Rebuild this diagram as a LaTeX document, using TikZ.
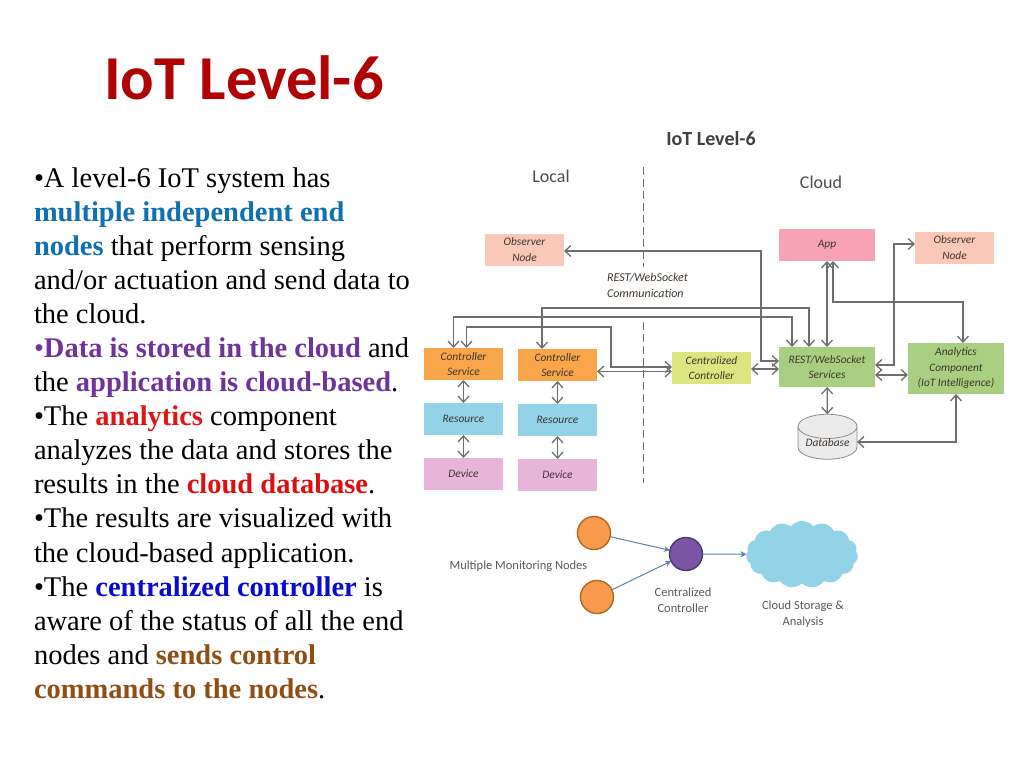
\documentclass[tikz,border=0pt]{standalone}
\usepackage{fontspec}
\setmainfont{Liberation Serif}
\newfontfamily\carlito{Carlito}
\usepackage{xcolor}
\usetikzlibrary{arrows.meta,positioning,shapes.geometric,shapes.symbols}
\definecolor{titlered}{HTML}{B00404}
\definecolor{endblue}{HTML}{1070B0}
\definecolor{cloudpurple}{HTML}{6F3399}
\definecolor{hotred}{HTML}{E01515}
\definecolor{darkred}{HTML}{DC1010}
\definecolor{ctrlblue}{HTML}{0A0AD0}
\definecolor{cmdbrown}{HTML}{8F4E14}
\definecolor{wire}{HTML}{6E6E6E}
\definecolor{boxtext}{HTML}{40362E}
\definecolor{obsfill}{HTML}{F9C8B8}
\definecolor{ctrlfill}{HTML}{F9A54A}
\definecolor{resfill}{HTML}{92D3E8}
\definecolor{devfill}{HTML}{E8B5DA}
\definecolor{centralfill}{HTML}{DCE681}
\definecolor{restfill}{HTML}{A8CF7F}
\definecolor{appfill}{HTML}{F8A3B5}
\definecolor{monfill}{HTML}{F79A4C}
\definecolor{monedge}{HTML}{B5651D}
\definecolor{hubfill}{HTML}{7D55A5}
\definecolor{hubedge}{HTML}{3F3F6F}
\definecolor{flow}{HTML}{5B7FA8}

\begin{document}
\begin{tikzpicture}[x=1pt,y=-1pt,<->,>={Straight Barb[length=6pt,width=11pt]},wire/.style={draw=wire,line width=1.3pt},
                    every node/.style={inner sep=0pt,outer sep=0pt}]
  \tikzstyle{box}=[rectangle,minimum width=79pt,minimum height=32pt,align=center,text=boxtext,
                   font=\carlito\itshape\fontsize{11.4}{15.5}\selectfont]
  \tikzstyle{note}=[align=center,text=black!65,font=\carlito\fontsize{12.5}{16}\selectfont]
  \tikzstyle{spot}=[circle,minimum size=33pt,line width=1.4pt]
  \useasboundingbox (0,0) rectangle (1024,768);

  \node[text=titlered,font=\carlito\bfseries\fontsize{62.5}{66}\selectfont] (title) at (244,78) {IoT Level-6};
  \node[anchor=north west,align=left,font=\fontsize{28.5}{34.07}\selectfont] (body) at (34,167.5) {%
    •A level-6 IoT system has\\
    \textcolor{endblue}{\textbf{multiple independent end}}\\
    \textcolor{endblue}{\textbf{nodes}} that perform sensing\\
    and/or actuation and send data to\\
    the cloud.\\
    \textcolor{cloudpurple}{•\textbf{Data is stored in the cloud}} and\\
    the \textcolor{cloudpurple}{\textbf{application is cloud-based}}.\\
    •The \textcolor{hotred}{\textbf{analytics}} component\\
    analyzes the data and stores the\\
    results in the \textcolor{darkred}{\textbf{cloud database}}.\\
    •The results are visualized with\\
    the cloud-based application.\\
    •The \textcolor{ctrlblue}{\textbf{centralized controller}} is\\
    aware of the status of all the end\\
    nodes and \textcolor{cmdbrown}{\textbf{sends control}}\\
    \textcolor{cmdbrown}{\textbf{commands to the nodes}}.};

  \node[text=black!75,font=\carlito\bfseries\fontsize{20}{22}\selectfont] (heading) at (711,139) {IoT Level-6};
  \node[text=black!70,font=\carlito\fontsize{18}{20}\selectfont] (local) at (551,176) {Local};
  \node[text=black!70,font=\carlito\fontsize{18}{20}\selectfont] (cloudhead) at (821,182) {Cloud};

  % local side
  \node[box,fill=ctrlfill] (ctrlA) at (463.5,364) {Controller\\Service};
  \node[box,fill=resfill,below=23pt of ctrlA] (resA) {Resource};
  \node[box,fill=devfill,below=23pt of resA] (devA) {Device};
  \node[box,fill=ctrlfill] (ctrlB) at (557.5,365) {Controller\\Service};
  \node[box,fill=resfill,below=23pt of ctrlB] (resB) {Resource};
  \node[box,fill=devfill,below=23pt of resB] (devB) {Device};
  \node[box,fill=obsfill] (obsL) at (524.5,249.5) {Observer\\Node};

  % cloud side
  \node[box,fill=centralfill] (central) at (711.5,368) {Centralized\\Controller};
  \node[box,fill=restfill,minimum width=96pt,minimum height=40pt] (rest) at (827,367) {REST/WebSocket\\Services};
  \node[box,fill=appfill,minimum width=96pt] (app) at (827,245) {App};
  \node[box,fill=obsfill] (obsR) at (954.5,247.5) {Observer\\Node};
  \node[box,fill=restfill,minimum width=96pt,minimum height=51pt] (ana) at (956,368.5) {Analytics\\Component\\(IoT Intelligence)};
  \node[cylinder,shape border rotate=90,aspect=0.55,draw=black!45,fill=black!8,line width=0.8pt,
        minimum width=59pt,minimum height=45pt,text=boxtext,font=\carlito\itshape\fontsize{11.4}{15}\selectfont] (db) at (827.5,443) {Database};

  \node[note,text=boxtext,align=left,anchor=north west,font=\carlito\itshape\fontsize{12}{16}\selectfont] (rwc) at (607,273) {REST/WebSocket\\Communication};

  \coordinate (divT) at (643,167);
  \coordinate (divM) at (643,267);
  \coordinate (divN) at (643,322);
  \coordinate (divB) at (643,483);
  \coordinate (busA) at (700,308);
  \coordinate (busB) at (700,317);
  \coordinate (busC) at (540,327);
  \coordinate (busD) at (611,367);
  \coordinate (topO) at (761,251);
  \coordinate (topA) at (900,302);
  \coordinate (sideO) at (894,300);

  \draw[-,draw=wire,line width=1pt,dash pattern=on 8pt off 4pt] (divT) -- (divM);
  \draw[-,draw=wire,line width=1pt,dash pattern=on 8pt off 4pt] (divN) -- (divB);

  \path[wire] (ctrlA) -- (resA);
  \path[wire] (resA) -- (devA);
  \path[wire] (ctrlB) -- (resB);
  \path[wire] (resB) -- (devB);
  \path[wire] (rest) -- (db);
  \path[wire] (rest) -- (app);
  \path[wire] ([yshift=-1pt]central.east) -- ([yshift=-2pt]rest.west);
  \path[wire] ([yshift=-6.5pt]ctrlB.east) -- ([yshift=-3.5pt]central.west);
  \path[wire] ([yshift=-8pt]rest.east) -- ([yshift=-8pt]rest.east -| ana.west);
  \path[wire] ([yshift=2pt]rest.east) -| (sideO) |- ([yshift=3.5pt]obsR.west);
  \path[wire] ([yshift=-1.5pt]obsL.east) -- (topO) |- ([yshift=6pt]rest.west);
  \path[wire] ([xshift=6pt]app.south) |- (topA) -| ([xshift=7pt]ana.north);
  \path[wire] ([yshift=1pt]db.east) -| (ana.south);
  \path[wire] ([xshift=-10pt]ctrlA.north) |- (busB) -| ([xshift=-35pt]rest.north);
  \path[wire] ([xshift=-15.5pt]ctrlB.north) |- (busA) -| ([xshift=-18pt]rest.north);
  \path[wire] ([xshift=3pt]ctrlA.north) |- (busC) -| (busD) -- ([yshift=1pt]central.west);

  % bottom row
  \node[spot,draw=monedge,fill=monfill] (monA) at (594,533) {};
  \node[spot,draw=monedge,fill=monfill] (monB) at (597,597) {};
  \node[spot,draw=hubedge,fill=hubfill] (hub) at (686,554) {};
  \node[cloud,cloud puffs=15,cloud puff arc=100,aspect=1.7,fill=resfill,
        minimum width=112pt,minimum height=67pt] (store) at (802,554.5) {};

  \draw[-{Stealth[length=6pt,width=6pt]},draw=flow,line width=1pt] (monA) -- (hub);
  \draw[-{Stealth[length=6pt,width=6pt]},draw=flow,line width=1pt] (monB) -- (hub);
  \draw[-{Stealth[length=6pt,width=6pt]},draw=flow,line width=1pt] (hub) -- (store);

  \node[note] (monlabel) at (518.5,566) {Multiple Monitoring Nodes};
  \node[note] (hublabel) at (683,600) {Centralized\\Controller};
  \node[note] (storelabel) at (803,614) {Cloud Storage \&\\Analysis};
\end{tikzpicture}
\end{document}
